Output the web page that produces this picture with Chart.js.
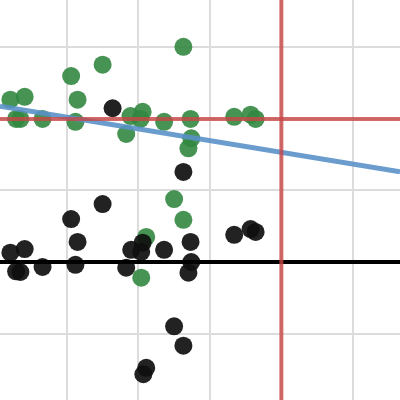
<!DOCTYPE html>
<html>
<head>
<meta charset="utf-8">
<script src="https://cdn.jsdelivr.net/npm/chart.js@4/dist/chart.umd.min.js"></script>
<style>
  html, body { margin: 0; padding: 0; background: #fff; }
  #wrap { width: 400px; height: 400px; }
</style>
</head>
<body>
<div id="wrap"><canvas id="scatter"></canvas></div>
<script>
// axis range and grid ticks
const xRange = [0.065, 5.659];
const yRange = [-0.93, 4.664];
const xTicks = [1, 2, 3, 4, 5];
const yTicks = [0, 1, 2, 3, 4];

// green series
const greenX = [0.21, 0.41, 0.29, 0.35, 0.66, 1.06, 1.15, 1.12, 1.50, 1.83, 1.89, 2.06, 2.03,
  2.36, 2.63, 2.73, 2.74, 2.70, 2.50, 2.63, 2.11, 2.04, 3.34, 3.57, 3.64];
const greenY = [3.27, 3.31, 3.00, 3.00, 3.00, 3.60, 3.27, 2.96, 3.76, 2.79, 3.04, 3.10, 3.00,
  2.96, 4.01, 3.00, 2.73, 2.59, 1.88, 1.59, 1.35, 0.78, 3.03, 3.06, 3.00];

// black series
const blackX = [0.21, 0.41, 0.29, 0.35, 0.66, 1.06, 1.15, 1.12, 1.50, 1.64, 1.83, 1.90, 2.06,
  2.04, 2.36, 2.73, 2.74, 2.70, 2.63, 2.50, 2.63, 2.11, 2.07, 3.34, 3.57, 3.64];
const blackY = [1.13, 1.18, 0.87, 0.86, 0.93, 1.60, 1.28, 0.96, 1.81, 3.15, 0.92, 1.17, 1.27,
  1.14, 1.17, 1.28, 1.00, 0.85, 2.26, 0.10, -0.17, -0.48, -0.57, 1.38, 1.46, 1.42];

// reference lines
const greenLevel = 3;
const blackLevel = 1;
const splitX = 4;
const trendY = [3.18, 2.26]; // at xRange[0], xRange[1]

const pts = (xs, ys) => xs.map((x, i) => ({ x: x, y: ys[i] }));
const lineDs = (data, color, width) => ({
  data: data,
  showLine: true,
  borderColor: color,
  borderWidth: width,
  pointRadius: 0,
  pointHoverRadius: 0
});

new Chart(document.getElementById("scatter"), {
  type: "scatter",
  data: {
    datasets: [
      lineDs([{ x: splitX, y: yRange[0] }, { x: splitX, y: yRange[1] }], "rgba(200,70,70,0.8)", 4),
      lineDs([{ x: xRange[0], y: greenLevel }, { x: xRange[1], y: greenLevel }], "rgba(200,70,70,0.8)", 4),
      lineDs([{ x: xRange[0], y: trendY[0] }, { x: xRange[1], y: trendY[1] }], "rgba(90,145,200,0.9)", 5),
      lineDs([{ x: xRange[0], y: blackLevel }, { x: xRange[1], y: blackLevel }], "#000", 4),
      {
        data: pts(blackX, blackY),
        backgroundColor: "rgba(15,15,15,0.92)",
        borderWidth: 0,
        pointRadius: 9
      },
      {
        data: pts(greenX, greenY),
        backgroundColor: "rgba(50,135,65,0.9)",
        borderWidth: 0,
        pointRadius: 9
      }
    ]
  },
  options: {
    responsive: true,
    maintainAspectRatio: false,
    animation: false,
    layout: { padding: 0, autoPadding: false },
    plugins: { legend: { display: false }, tooltip: { enabled: false } },
    scales: {
      x: {
        type: "linear",
        min: xRange[0], max: xRange[1],
        afterBuildTicks: (s) => { s.ticks = xTicks.map(v => ({ value: v })); },
        ticks: { display: false },
        border: { display: false },
        grid: { color: "#dcdcdc", lineWidth: 2, drawTicks: false }
      },
      y: {
        type: "linear",
        min: yRange[0], max: yRange[1],
        afterBuildTicks: (s) => { s.ticks = yTicks.map(v => ({ value: v })); },
        ticks: { display: false },
        border: { display: false },
        grid: { color: "#dcdcdc", lineWidth: 2, drawTicks: false }
      }
    }
  }
});
</script>
</body>
</html>
